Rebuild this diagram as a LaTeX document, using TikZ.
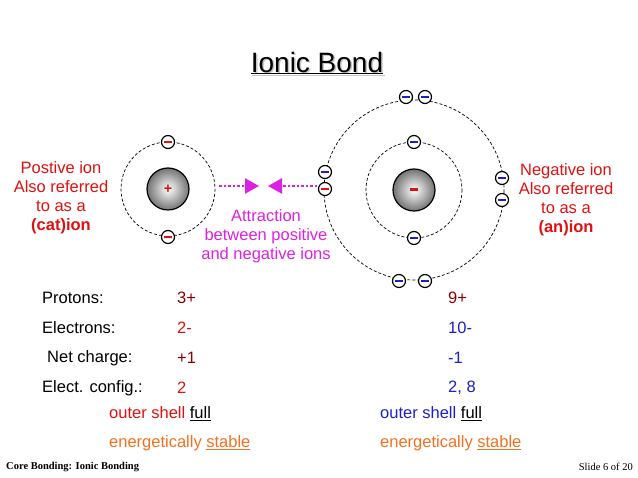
\documentclass[tikz,border=0pt]{standalone}
\usepackage{fontspec}
\setmainfont{Liberation Sans}
\newfontfamily\timesf{Liberation Serif}
\usetikzlibrary{arrows.meta}
\definecolor{dred}{HTML}{8B0000}
\definecolor{lred}{HTML}{E01010}
\definecolor{lblue}{HTML}{1E1EC8}
\definecolor{mag}{HTML}{E020E0}
\definecolor{orng}{HTML}{F07020}
\begin{document}
\begin{tikzpicture}[x=1pt,y=-1pt,
  shell/.style={draw,dash pattern=on 3pt off 2pt,line width=0.7pt},
  nucleus/.style={circle,draw,line width=1.2pt,minimum size=42pt,inner sep=0pt,inner color=white,outer color=gray!90!black,font=\bfseries\Large},
  elec/.style={circle,draw,line width=1.2pt,fill=white,minimum size=13pt,inner sep=0pt},
  lab/.style={align=center,font=\fontsize{16.5}{19}\selectfont,inner sep=0pt},
  txt/.style={anchor=west,font=\fontsize{16.5}{19}\selectfont,inner sep=0pt},
  attr/.style={mag,line width=2.5pt,dash pattern=on 2.5pt off 2pt,-{Triangle[length=14pt,width=15pt,fill=mag]}}]
\useasboundingbox (0,0) rectangle (638,478);
\newcommand{\mybar}[2]{\fill[#2] ([xshift=-4pt,yshift=-1.2pt]#1.center) rectangle ([xshift=4pt,yshift=1.2pt]#1.center);}
% title
\node[font=\fontsize{28}{32}\selectfont,gray!45] at (318.5,64.5) {\underline{Ionic Bond}};
\node (title) [font=\fontsize{28}{32}\selectfont] at (317,63) {\underline{Ionic Bond}};
% left atom
\coordinate (L) at (168,189);
\draw[shell] (L) circle (47);
\node (nl) [nucleus,text=lred] at (L) {+};
\node (el1) [elec] at (168,142) {}; \mybar{el1}{lred}
\node (el2) [elec] at (168,237) {}; \mybar{el2}{lred}
% right atom
\coordinate (R) at (414,190);
\draw[shell] (R) circle (48);
\draw[shell] (R) circle (90);
\node (nr) [nucleus] at (R) {}; \fill[lred] (410,188.5) rectangle (418,191.5);
\node (e1) [elec] at (414,142) {}; \mybar{e1}{lblue}
\node (e2) [elec] at (414,238) {}; \mybar{e2}{lblue}
\node (e3) [elec] at (406,97) {}; \mybar{e3}{lblue}
\node (e4) [elec] at (425,97) {}; \mybar{e4}{lblue}
\node (e5) [elec] at (399,281) {}; \mybar{e5}{lblue}
\node (e6) [elec] at (425,281) {}; \mybar{e6}{lblue}
\node (e7) [elec] at (325,172) {}; \mybar{e7}{lblue}
\node (e8) [elec] at (325,189) {}; \mybar{e8}{lred}
\node (e9) [elec] at (502,178) {}; \mybar{e9}{lblue}
\node (e10) [elec] at (502,200) {}; \mybar{e10}{lblue}
% attraction arrows
\coordinate (a1) at (219,186); \coordinate (a2) at (259,186);
\coordinate (b1) at (317,186); \coordinate (b2) at (268,186);
\draw[attr] (a1) -- (a2);
\draw[attr] (b1) -- (b2);
\node (attrtxt) [lab,mag] at (266,236) {Attraction\\between positive\\and negative ions};
% side labels
\node (pos) [lab,lred] at (61,198) {Postive ion\\Also referred\\to as a\\\textbf{(cat)ion}};
\node (neg) [lab,lred] at (566,200) {Negative ion\\Also referred\\to as a\\\textbf{(an)ion}};
% table
\node[txt] at (42,298) {Protons:};
\node[txt] at (42,328) {Electrons:};
\node[txt] at (47,358) {Net charge:};
\node[txt] at (42,388) {Elect. config.:};
\node[txt,dred] at (177,298) {3+};
\node[txt,lred] at (177,328) {2-};
\node[txt,dred] at (177,358) {+1};
\node[txt,lred] at (177,388) {2};
\node[txt,dred] at (448,298) {9+};
\node[txt,lblue] at (448,328) {10-};
\node[txt,lblue] at (448,358) {-1};
\node[txt,lblue] at (448,388) {2, 8};
\node[txt,lred] at (109,414) {outer shell \textcolor{black}{\underline{full}}};
\node[txt,orng] at (109,443) {energetically \underline{stable}};
\node[txt,lblue] at (380,414) {outer shell \textcolor{black}{\underline{full}}};
\node[txt,orng] at (380,443) {energetically \underline{stable}};
% footer
\node[anchor=west,font=\timesf\bfseries\fontsize{10.5}{12}\selectfont,inner sep=0pt] at (6,467) {Core Bonding: Ionic Bonding};
\node[anchor=east,font=\timesf\fontsize{10.5}{12}\selectfont,inner sep=0pt] at (633,467) {Slide 6 of 20};
\end{tikzpicture}
\end{document}
